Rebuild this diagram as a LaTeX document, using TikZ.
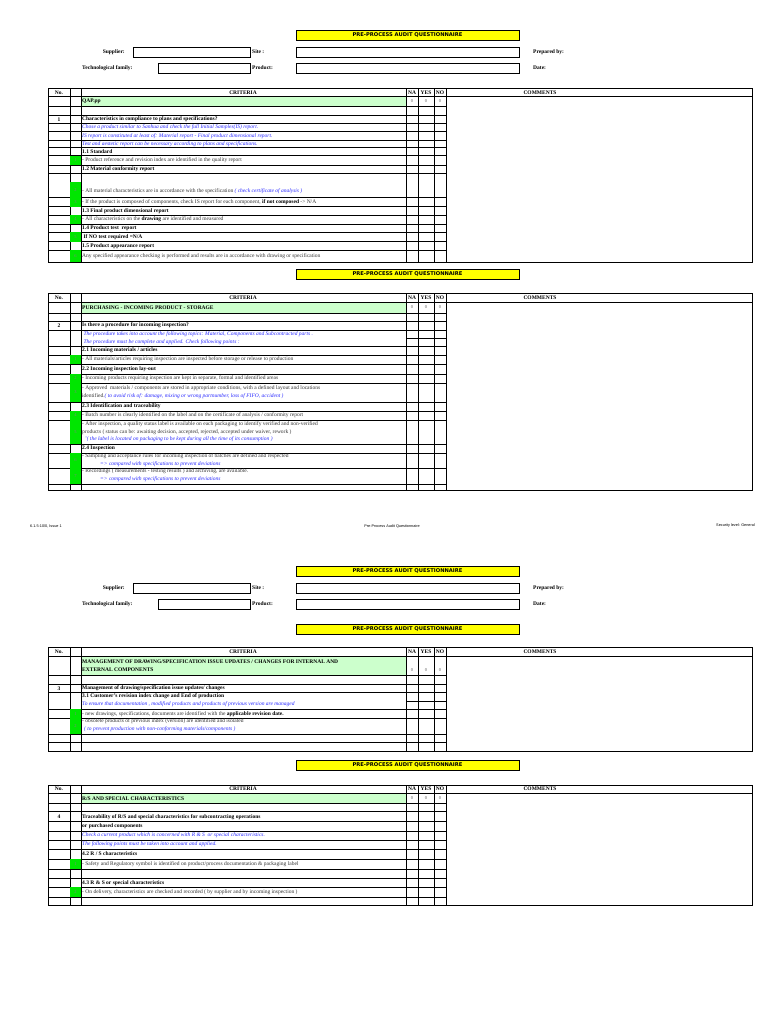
\documentclass[tikz,border=0pt]{standalone}
\usepackage{fontspec}
\setmainfont{Liberation Serif}
\newfontfamily\barfont{DejaVu Sans}
\newfontfamily\ftfont{Liberation Sans}
\definecolor{bl}{RGB}{40,40,255}
\definecolor{gr}{RGB}{0,230,0}
\definecolor{lg}{RGB}{204,255,204}
\definecolor{yl}{RGB}{255,255,0}
\tikzset{cell/.style={draw=black,line width=0.5pt},
 tx/.style={anchor=west,inner sep=0pt,font=\fontsize{5.5}{6}\selectfont,text=black!80},
 tb/.style={tx,font=\fontsize{5.5}{6}\selectfont\bfseries,text=black},
 ti/.style={tx,font=\fontsize{5.5}{6}\selectfont\itshape,text=bl},
 lab/.style={inner sep=0pt,font=\fontsize{5.5}{6}\selectfont\bfseries},
 zero/.style={inner sep=0pt,font=\fontsize{4.5}{5}\selectfont,text=black!60},
 gnum/.style={inner sep=0pt,font=\fontsize{4.5}{5}\selectfont,text=black!50}}
\newcommand\trow[2]{\draw[cell] (48,#1) rectangle (70,#2) (70,#1) rectangle (81,#2) (81,#1) rectangle (406,#2) (406,#1) rectangle (418,#2) (418,#1) rectangle (434,#2) (434,#1) rectangle (446,#2);}
\newcommand\grn[3]{\fill[gr] (70.3,#1) rectangle (80.7,#2); \node[gnum] at (75.5,{(#1+#2)/2}) {#3};}
\newcommand\thead[3]{% top bot bottom-of-table
 \trow{#1}{#2}
 \draw[cell] (446,#1) rectangle (752,#3) (446,#2) -- (752,#2);
 \draw[line width=0.9pt] (48,#1) rectangle (446,#3);
 \node[lab] at (59,{(#1+#2)/2}) {No.};
 \node[lab] at (243,{(#1+#2)/2}) {CRITERIA};
 \node[lab] at (412,{(#1+#2)/2}) {NA};
 \node[lab] at (426,{(#1+#2)/2}) {YES};
 \node[lab] at (440,{(#1+#2)/2}) {NO};
 \node[lab] at (540,{(#1+#2)/2}) {COMMENTS};}
\newcommand\sect[3]{% top bot ymid-of-zeros
 \fill[lg] (81,#1) rectangle (406,#2); \trow{#1}{#2}
 \node[zero] at (412,#3) {0}; \node[zero] at (426,#3) {0}; \node[zero] at (440,#3) {0};}
\newcommand\tbar[1]{\draw[fill=yl,line width=0.7pt] (296,#1) rectangle (519,#1+10);
 \node[inner sep=0pt,font=\barfont\bfseries\fontsize{5.2}{6}\selectfont] at (407.5,#1+5) {PRE-PROCESS AUDIT QUESTIONNAIRE};}
\newcommand\hdr[1]{% top y of supplier box
 \node[lab,anchor=east] at (125,#1+5) {Supplier:};
 \draw[line width=0.6pt] (133,#1) rectangle (250,#1+10) (296,#1) rectangle (519,#1+10) (158,#1+16) rectangle (250,#1+26) (296,#1+16) rectangle (519,#1+26);
 \node[lab,anchor=west] at (252,#1+5) {Site :};
 \node[lab,anchor=west] at (533,#1+5) {Prepared by:};
 \node[lab,anchor=west] at (82,#1+21) {Technological family:};
 \node[lab,anchor=west] at (252,#1+21) {Product:};
 \node[lab,anchor=west] at (533,#1+21) {Date:};}
\begin{document}
\begin{tikzpicture}[x=1pt,y=-1pt]
\useasboundingbox[fill=white] (0,0) rectangle (768,1024);
% ===== page 1
\tbar{30}\hdr{47}
\thead{88.5}{96}{262.3}
\sect{96}{106.7}{101.5}
\node[tb] at (82,101.3) {QAP.pp};
\foreach \a/\b in {106.7/115,115/123.3,123.3/131.7,131.7/140,140/147.7,147.7/155.7,155.7/165,165/173.3,173.3/197.3,197.3/206.7,206.7/215,215/224,224/232.3,232.3/241.7,241.7/250,250/262.3}{\trow{\a}{\b}}
\node[lab] at (59,119.2) {1};
\node[tb] at (82,119.2) {Characteristics in compliance to plans and specifications?};
\node[ti] at (82,127.5) {Chose a product similar to Sanhua and check the full Initial Samples(IS) report.};
\node[ti] at (82,135.8) {IS report is constituted at least of: Material report - Final product dimensional report.};
\node[ti] at (82,143.8) {Test and aestetic report can be necessary according to plans and specifications.};
\node[tb] at (82,151.7) {1.1 Standard};
\grn{155.7}{165}{1}\node[tx] at (82,160.3) {- Product reference and revision index are identified in the quality report};
\node[tb] at (82,169.1) {1.2 Material conformity report};
\grn{182}{197.3}{2}\node[tx] at (82,191.5) {- All material characteristics are in accordance with the specification \textcolor{bl}{\itshape( check certificate of analysis )}};
\grn{197.3}{206.7}{3}\node[tx] at (82,202) {- If the product is composed of components, check IS report for each component, \textbf{\color{black}if not composed} -> N/A};
\node[tb] at (82,210.8) {1.3 Final product dimensional report};
\grn{215}{224}{4}\node[tx] at (82,219.5) {- All characteristics on the \textbf{\color{black}drawing} are identified and measured};
\node[tb] at (82,228.1) {1.4 Product test \ report};
\grn{232.3}{241.7}{5}\node[tb] at (82,237) {\ If NO test required =N/A};
\node[tb] at (82,245.8) {1.5 Product appearance report};
\grn{250}{262.3}{6}\node[tx] at (82,256.1) {Any specified appearance checking is performed and results are in accordance with drawing or specification};
% table 2
\tbar{269}
\thead{293}{302}{490}
\sect{302}{313}{307.5}
\node[tb] at (82,307.5) {PURCHASING - INCOMING PRODUCT - STORAGE};
\foreach \a/\b in {313/321,321/330,330/346,346/355,355/364,364/374,374/383,383/402,402/411,411/420,420/444,444/453,453/468,468/484,484/490}{\trow{\a}{\b}}
\draw[cell] (406,338) -- (446,338);
\node[lab] at (59,325.5) {2};
\node[tb] at (82,325.5) {Is there a procedure for incoming inspection?};
\node[ti] at (82,334) {\ The procedure takes into account the following topics: Material, Components and Subcontracted parts .};
\node[ti] at (82,342) {\ The procedure must be complete and applied. Check following points :};
\node[tb] at (82,350.5) {2.1 Incoming materials / articles};
\grn{355}{364}{1}\node[tx] at (82,359.5) {- All materials/articles requiring inspection are inspected before storage or release to production};
\node[tb] at (82,369) {2.2 Incoming inspection lay-out};
\grn{374}{383}{2}\node[tx] at (82,378.5) {- Incoming products requiring inspection are kept in separate, formal and identified areas};
\grn{383}{402}{3}\node[tx] at (82,388) {- Approved \ materials / components are stored in appropriate conditions, with a defined layout and locations};
\node[tx] at (82,396.5) {identified.\textcolor{bl}{\itshape( to avoid risk of: damage, mixing or wrong partnumber, loss of FIFO, accident )}};
\node[tb] at (82,406.5) {2.3 Identification and traceability};
\grn{411}{420}{4}\node[tx] at (82,415.5) {- Batch number is clearly identified on the label and on the certificate of analysis / conformity report};
\grn{420}{444}{5}\node[tx] at (82,424.5) {- After inspection, a quality status label is available on each packaging to identify verified and non-verified};
\node[tx] at (82,432) {products ( status can be: awaiting decision, accepted, rejected, accepted under waiver, rework )};
\node[ti] at (82,439.5) {\ \ '( the label is located on packaging to be kept during all the time of its consumption )};
\node[tb] at (82,448.5) {2.4 Inspection};
\grn{453}{468}{6}\node[tx] at (82,456.5) {- Sampling and acceptance rules for incoming inspection of batches are defined and respected};
\node[ti] at (100,464) {=> compared with specifications to prevent deviations};
\grn{468}{484}{7}\node[tx] at (82,471.5) {- Recordings ( measurements - testing results ) and archiving, are available.};
\node[ti] at (100,479) {=> compared with specifications to prevent deviations};
% footer
\node[inner sep=0pt,anchor=west,font=\ftfont\fontsize{3.8}{4}\selectfont] at (30,526) {6.1.5-10/0, Issue 1};
\node[inner sep=0pt,font=\ftfont\fontsize{3.8}{4}\selectfont] at (392,526) {Pre-Process Audit Questionnaire};
\node[inner sep=0pt,anchor=east,font=\ftfont\fontsize{3.8}{4}\selectfont] at (755,526) {Security level: General};
% ===== page 2
\tbar{566}\hdr{583}
\tbar{624}
\thead{647.7}{656}{751.7}
\sect{656}{675.7}{670}
\node[tb] at (82,661.5) {MANAGEMENT OF DRAWING/SPECIFICATION ISSUE UPDATES / CHANGES FOR INTERNAL AND};
\node[tb] at (82,669.5) {EXTERNAL COMPONENTS};
\foreach \a/\b in {675.7/684,684/692.7,692.7/709.3,709.3/718.3,718.3/734.3,734.3/742.7,742.7/751.7}{\trow{\a}{\b}}
\draw[cell] (406,701) -- (446,701);
\node[lab] at (59,688.3) {3};
\node[tb] at (82,688.3) {Management of drawing/specification issue updates/ changes};
\node[tb] at (82,696.5) {3.1 Customer's revision index change and End of production};
\node[ti] at (82,704) {To ensure that documentation , modified products and products of previous version are managed};
\grn{709.3}{718.3}{1}\node[tx] at (82,713.8) {- new drawings, specifications, documents are identified with the \textbf{\color{black}applicable revision date.}};
\grn{718.3}{734.3}{2}\node[tx] at (82,721.5) {- obsolete products of previous index (version) are identified and isolated};
\node[ti] at (84,729.5) {( to prevent production with non-conforming materials/components )};
% table 4
\tbar{760}
\thead{785}{793.3}{905}
\sect{793.3}{803.3}{798.3}
\node[tb] at (82,798.3) {R/S AND SPECIAL CHARACTERISTICS};
\foreach \a/\b in {803.3/811.7,811.7/821.7,821.7/831,831/840,840/849.3,849.3/859,859/869.3,869.3/878.3,878.3/887.3,887.3/897.3,897.3/905}{\trow{\a}{\b}}
\node[lab] at (59,816.7) {4};
\node[tb] at (82,816.7) {Traceability of R/S and special characteristics for subcontracting operations};
\node[tb] at (82,826.3) {or purchased components};
\node[ti] at (82,835.5) {Check a current product which is concerned with R \& S \ or special characteristics.};
\node[ti] at (82,844.6) {The following points must be taken into account and applied.};
\node[tb] at (82,854.1) {4.2 R / S characteristics};
\grn{859}{869.3}{1}\node[tx] at (82,864.1) {- Safety and Regulatory symbol is identified on product/process documentation \& packaging label};
\node[tb] at (82,882.8) {4.3 R \& S or special characteristics};
\grn{887.3}{897.3}{2}\node[tx] at (82,892.3) {- On delivery, characteristics are checked and recorded ( by supplier and by incoming inspection )};
\end{tikzpicture}
\end{document}
